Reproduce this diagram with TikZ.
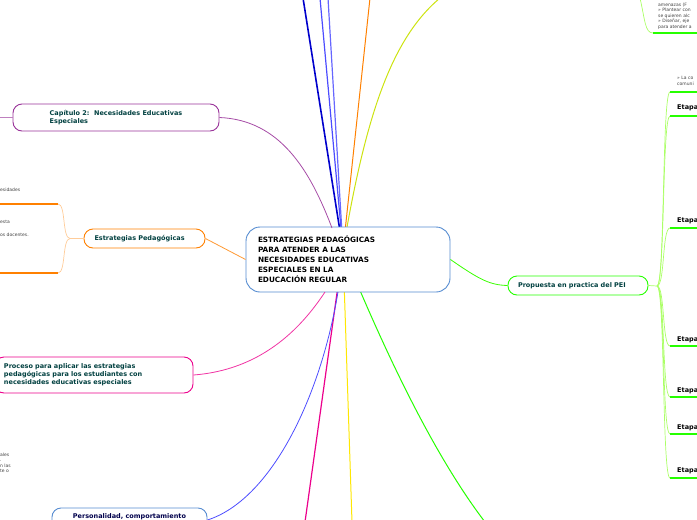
\documentclass[tikz,border=0pt]{standalone}
\usepackage{fontspec}
\setmainfont{DejaVu Sans}
\begin{document}
\begin{tikzpicture}[x=1pt,y=-1pt,
 box/.style={draw,rounded corners=9pt,line width=0.9pt,fill=white,font=\bfseries\fontsize{6.5}{8}\selectfont,text=teal!50!black,align=left,inner xsep=8pt},
 tiny/.style={font=\fontsize{4.5}{5.5}\selectfont,text=black!75,align=left,anchor=west,inner sep=0pt},
 etapa/.style={font=\bfseries\fontsize{6.5}{8}\selectfont,anchor=west,inner sep=0pt}]
\useasboundingbox (0,0) rectangle (697,520);
\clip (0,0) rectangle (697,520);
\coordinate (c) at (343,250);
\draw[blue!80!black,line width=1.6pt] (c) -- (303,-2);
\draw[blue!70,line width=1.2pt] (c) -- (320,-2);
\draw[blue!60,line width=1.2pt] (c) -- (328,-2);
\draw[orange,line width=1pt] (c) -- (370,-2);
\draw[yellow!80!green,line width=1pt] (c) .. controls (365,120) and (390,40) .. (440,-2);
\draw[magenta,line width=1.2pt] (c) -- (305,522);
\draw[yellow!90!orange,line width=1pt] (c) -- (352,522);
\draw[green!80!lime,line width=1pt] (c) .. controls (380,340) and (430,450) .. (485,522);
\node[box,draw=violet!80,minimum width=206pt,minimum height=27pt] (cap) at (116,117.5) {Capítulo 2:\ \ Necesidades Educativas\\Especiales};
\node[box,draw=orange,minimum width=121pt,minimum height=19pt,text width=100pt] (est) at (144.5,238.5) {Estrategias Pedagógicas};
\node[box,draw=magenta,minimum width=198pt,minimum height=36pt,text width=180pt] (pro) at (94,375) {Proceso para aplicar las estrategias\\pedagógicas para los estudiantes con\\necesidades educativas especiales};
\node[box,draw=cyan!50!blue!70,minimum width=155pt,minimum height=24pt,align=center,text=blue!30!black] (per) at (129.5,520) {Personalidad, comportamiento\\ };
\node[box,draw=green!80!lime,minimum width=140pt,minimum height=19pt,text width=120pt] (pei) at (578,285.5) {Propuesta en practica del PEI};
\node[box,draw=cyan!50!blue!70,rounded corners=14pt,minimum width=204pt,minimum height=65pt,text=black,text width=180pt,font=\bfseries\fontsize{7.3}{10}\selectfont] (main) at (348,259.5) {ESTRATEGIAS PEDAGÓGICAS\\PARA ATENDER A LAS\\NECESIDADES EDUCATIVAS\\ESPECIALES EN LA\\EDUCACIÓN REGULAR};
\draw[violet!70,line width=0.8pt] (cap.east) .. controls (280,120) and (310,170) .. (332,228);
\draw[violet!50,line width=0.8pt] (cap.west) -- (0,117.5);
\draw[orange!80,line width=0.8pt] (est.east) -- (main.west);
\draw[magenta!80,line width=0.8pt] (pro.east) .. controls (260,370) and (300,330) .. (325,292);
\draw[blue!70,line width=0.8pt] (per.east) .. controls (270,500) and (320,400) .. (338,292);
\draw[green!70!lime,line width=0.8pt] (main.east) .. controls (480,280) and (490,285) .. (pei.west);
\draw[orange!40,line width=0.7pt] (est.west) -- (70,238.5) .. controls (62,238) and (66,204) .. (58,204);
\draw[orange!40,line width=0.7pt] (70,238.5) .. controls (62,239) and (66,273) .. (58,273);
\draw[orange,line width=1.2pt] (0,204) -- (58,204);
\draw[orange,line width=1.2pt] (0,273) -- (58,273);
\node[tiny] (t1) at (0,190) {esidades};
\node[tiny] (t2) at (0,222) {esta};
\node[tiny] (t3) at (0,235) {os docentes.};
\node[tiny] (t4) at (0,463) {ales\\.\\n las\\te o};
\coordinate (pb) at (657,286);
\draw[green!40!lime!60,line width=0.7pt] (pei.east) -- (pb);
\foreach \y in {92,116,228,346,397,434,478}{
 \draw[green!40!lime!60,line width=0.7pt] (pb) .. controls (665,286) and (662,\y) .. (670,\y);
 \draw[green!80!lime,line width=1.2pt] (670,\y) -- (697,\y);
}
\node[etapa] (e1) at (677,108) {Etapa};
\node[etapa] (e2) at (677,221) {Etapa};
\node[etapa] (e3) at (677,340) {Etapa};
\node[etapa] (e4) at (677,391) {Etapa};
\node[etapa] (e5) at (677,428) {Etapa};
\node[etapa] (e6) at (677,471) {Etapa};
\node[tiny] (lc) at (677,81) {» La co\\comuni};
\draw[green!40!lime!60,line width=0.7pt] (640,-2) .. controls (645,20) and (645,33) .. (653,33);
\draw[green!80!lime,line width=1.2pt] (653,33) -- (697,33);
\node[tiny] (tr) at (658,16) {amenazas (F\\» Plantear con\\se quieren alc\\» Diseñar, eje\\para atender a};
\end{tikzpicture}
\end{document}
